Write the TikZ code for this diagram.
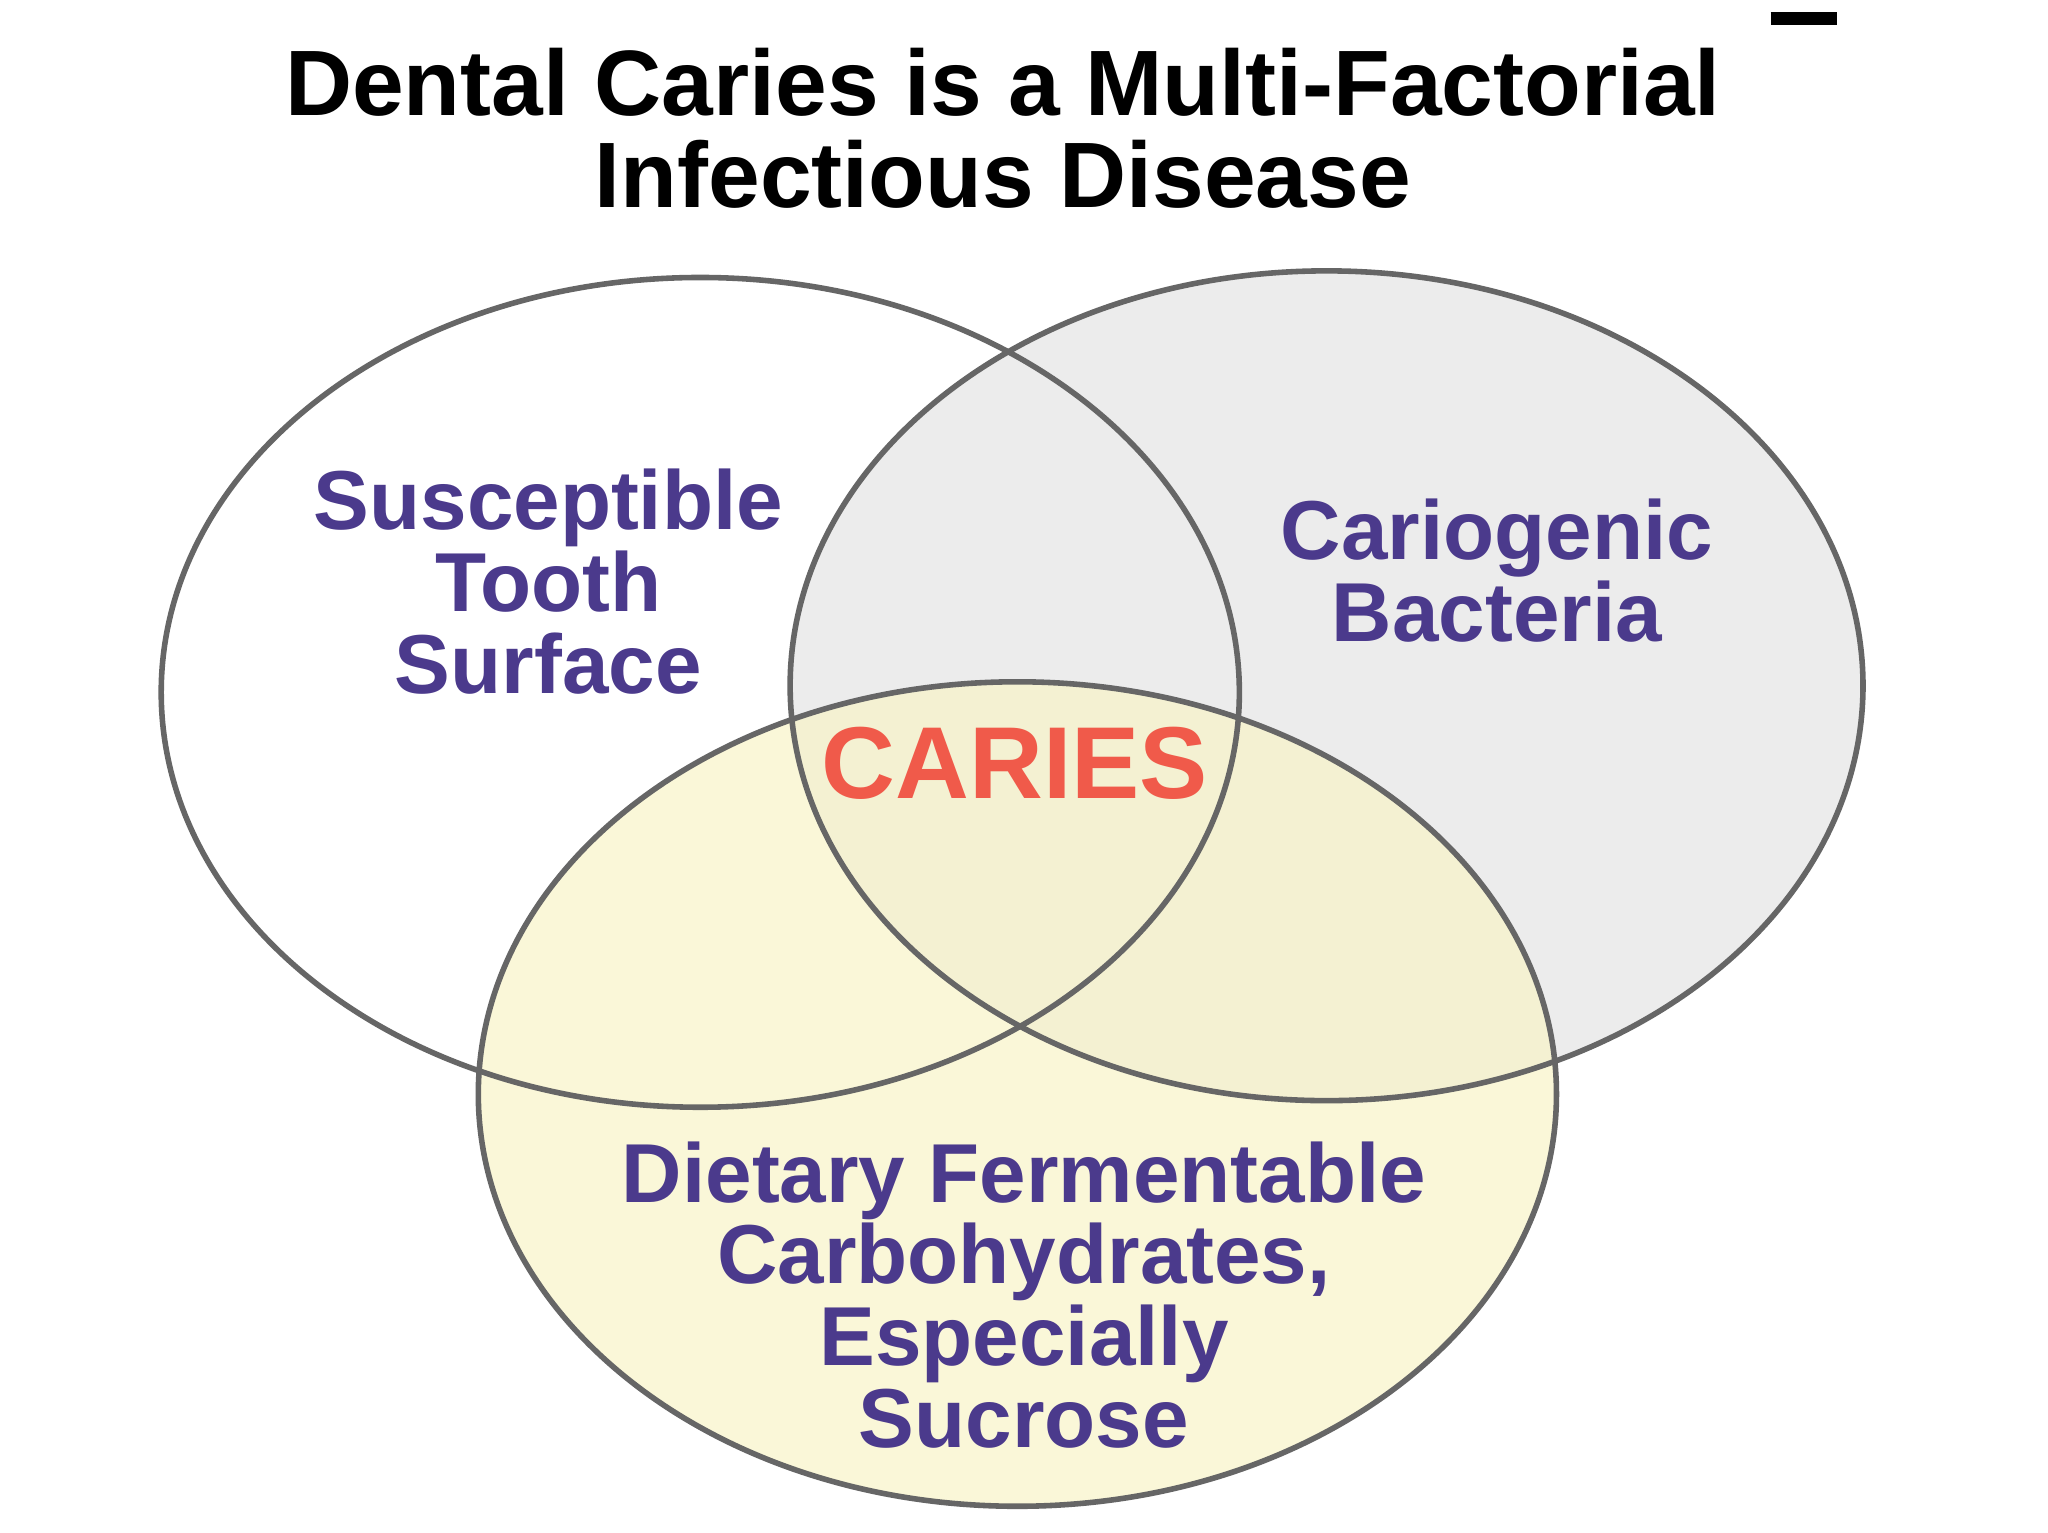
\documentclass[tikz,border=0pt]{standalone}
\usepackage{fontspec}
\setmainfont{Liberation Sans}
\begin{document}
\begin{tikzpicture}[x=0.01cm,y=-0.01cm,
  ell/.style={draw=black!60,line width=1.2pt},
  lab/.style={text=purp,font=\bfseries\fontsize{18}{17.6}\selectfont,align=center},
  ttl/.style={font=\bfseries\fontsize{20}{24}\selectfont,align=center}]
\definecolor{purp}{HTML}{4B3A8C}
\definecolor{cred}{HTML}{F05A4A}
\definecolor{gr}{HTML}{E8E8E8}
\definecolor{yl}{HTML}{F8F4C8}
\useasboundingbox (0,0) rectangle (1550,1160);
\fill[white] (0,0) rectangle (1550,1160);
\fill[gr,fill opacity=0.8] (1004,519) ellipse [x radius=406,y radius=314];
\fill[yl,fill opacity=0.7] (770,828) ellipse [x radius=408,y radius=312];
\draw[ell] (530,524) ellipse [x radius=408,y radius=314];
\draw[ell] (1004,519) ellipse [x radius=406,y radius=314];
\draw[ell] (770,828) ellipse [x radius=408,y radius=312];
\draw[line width=3pt] (1340,14) -- (1390,14);
\node[ttl] (t1) at (759,62) {Dental Caries is a Multi-Factorial};
\node[ttl] (t2) at (759,132) {Infectious Disease};
\node[lab] (s) at (415,440) {Susceptible\\Tooth\\Surface};
\node[lab] (c) at (1133,432) {Cariogenic\\Bacteria};
\node[lab,text=cred,font=\bfseries\fontsize{22}{26}\selectfont] (k) at (768,578) {CARIES};
\node[lab] (d) at (775,980) {Dietary Fermentable\\Carbohydrates,\\Especially\\Sucrose};
\end{tikzpicture}
\end{document}
